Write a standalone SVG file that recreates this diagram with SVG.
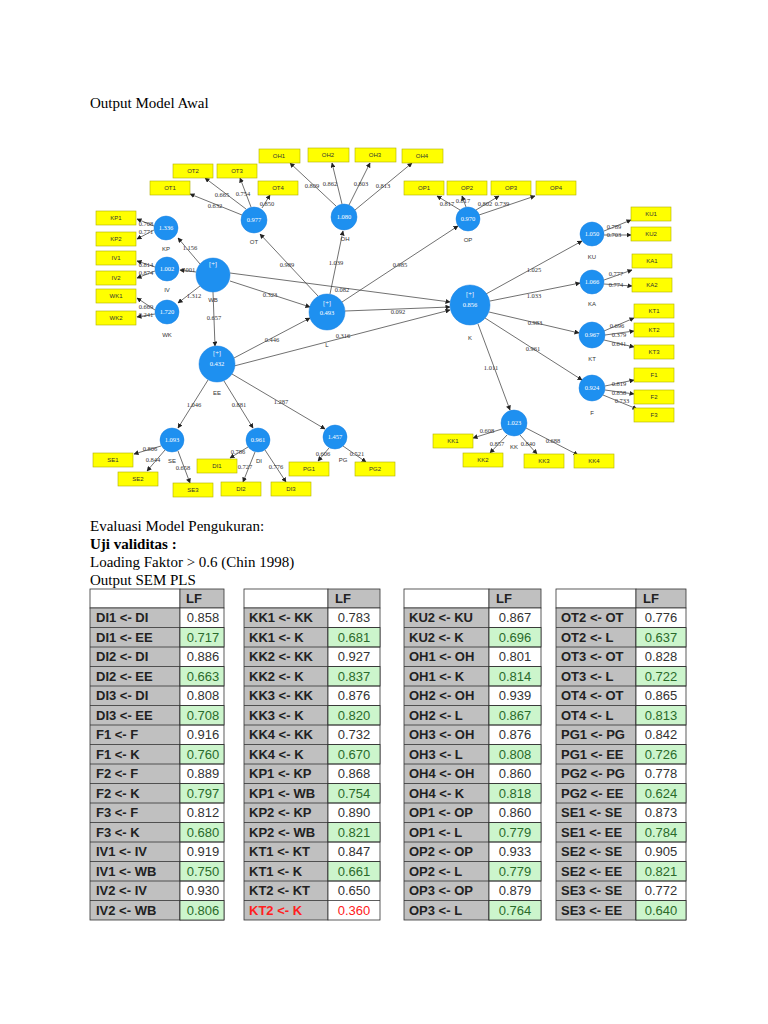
<svg xmlns="http://www.w3.org/2000/svg" width="768" height="1024" viewBox="0 0 768 1024">
<style>
.t{font-family:"Liberation Serif",serif;font-size:15px;fill:#000}
.lv{fill:#1e90f0;stroke:#1a80e0;stroke-width:0.5}
.cv{font-family:"Liberation Serif",serif;font-size:6.5px;fill:#fff;text-anchor:middle}
.nl{font-family:"Liberation Sans",sans-serif;font-size:6px;fill:#333;text-anchor:middle}
.bx{fill:#ffff00;stroke:#b0b000;stroke-width:0.6}
.bt{font-family:"Liberation Sans",sans-serif;font-size:6px;fill:#333;text-anchor:middle}
.ln{stroke:#333;stroke-width:0.7;fill:none;marker-end:url(#a)}
.el{font-family:"Liberation Serif",serif;font-size:6.5px;fill:#333;text-anchor:middle}
.hd{fill:#c0c0c0;stroke:#333;stroke-width:0.8}
.wc{fill:#fff;stroke:#333;stroke-width:0.8}
.gc{fill:#ccf5cc;stroke:#333;stroke-width:0.8}
.k{font-family:"Liberation Sans",sans-serif;font-size:13px;font-weight:bold;fill:#222}
.v{font-family:"Liberation Sans",sans-serif;font-size:13px;fill:#333;text-anchor:middle}
.vg{font-family:"Liberation Sans",sans-serif;font-size:13px;fill:#2a6a2a;text-anchor:middle}
.r{fill:#ff2020}
.gl{stroke:#333;stroke-width:0.8}
</style>
<defs><marker id="a" markerWidth="5" markerHeight="5" refX="4.5" refY="2.5" orient="auto" markerUnits="userSpaceOnUse"><path d="M0,0L5,2.5L0,5z" fill="#222"/></marker>
<g id="grid1"><line x1="0" y1="19.5" x2="1" y2="19.5"/></g></defs>
<rect width="768" height="1024" fill="#fff"/>
<text class="t" x="90" y="108">Output Model Awal</text>

<g id="connectors">
<line class="ln" x1="200" y1="264" x2="178" y2="238"/>
<line class="ln" x1="196" y1="272" x2="180" y2="270"/>
<line class="ln" x1="200" y1="286" x2="178" y2="303"/>
<line class="ln" x1="230" y1="281" x2="310" y2="307"/>
<line class="ln" x1="230" y1="273" x2="450" y2="302"/>
<line class="ln" x1="213" y1="292" x2="215" y2="346"/>
<line class="ln" x1="318" y1="296" x2="260" y2="234"/>
<line class="ln" x1="330" y1="294" x2="343" y2="231"/>
<line class="ln" x1="342" y1="302" x2="458" y2="226"/>
<line class="ln" x1="345" y1="311" x2="450" y2="307"/>
<line class="ln" x1="234" y1="358" x2="310" y2="318"/>
<line class="ln" x1="234" y1="366" x2="450" y2="310"/>
<line class="ln" x1="486" y1="294" x2="582" y2="241"/>
<line class="ln" x1="490" y1="301" x2="580" y2="283"/>
<line class="ln" x1="489" y1="312" x2="579" y2="333"/>
<line class="ln" x1="485" y1="318" x2="582" y2="380"/>
<line class="ln" x1="478" y1="324" x2="510" y2="410"/>
<line class="ln" x1="208" y1="380" x2="178" y2="428"/>
<line class="ln" x1="224" y1="381" x2="253" y2="428"/>
<line class="ln" x1="232" y1="374" x2="325" y2="429"/>
<line class="ln" x1="242" y1="215" x2="190" y2="194"/>
<line class="ln" x1="246" y1="209" x2="205" y2="178"/>
<line class="ln" x1="251" y1="207" x2="240" y2="178"/>
<line class="ln" x1="262" y1="208" x2="270" y2="195"/>
<line class="ln" x1="336" y1="206" x2="290" y2="163"/>
<line class="ln" x1="342" y1="204" x2="332" y2="163"/>
<line class="ln" x1="349" y1="205" x2="370" y2="163"/>
<line class="ln" x1="355" y1="210" x2="412" y2="163"/>
<line class="ln" x1="460" y1="210" x2="437" y2="196"/>
<line class="ln" x1="466" y1="207" x2="462" y2="196"/>
<line class="ln" x1="476" y1="210" x2="499" y2="196"/>
<line class="ln" x1="479" y1="215" x2="535" y2="196"/>
<line class="ln" x1="154" y1="226" x2="137" y2="219"/>
<line class="ln" x1="154" y1="230" x2="137" y2="239"/>
<line class="ln" x1="155" y1="267" x2="137" y2="261"/>
<line class="ln" x1="155" y1="271" x2="137" y2="278"/>
<line class="ln" x1="155" y1="310" x2="137" y2="298"/>
<line class="ln" x1="155" y1="314" x2="137" y2="317"/>
<line class="ln" x1="604" y1="231" x2="631" y2="220"/>
<line class="ln" x1="604" y1="235" x2="631" y2="235"/>
<line class="ln" x1="604" y1="280" x2="632" y2="270"/>
<line class="ln" x1="604" y1="284" x2="632" y2="286"/>
<line class="ln" x1="604" y1="331" x2="634" y2="318"/>
<line class="ln" x1="605" y1="335" x2="634" y2="331"/>
<line class="ln" x1="604" y1="340" x2="634" y2="347"/>
<line class="ln" x1="605" y1="386" x2="634" y2="380"/>
<line class="ln" x1="605" y1="390" x2="634" y2="394"/>
<line class="ln" x1="603" y1="395" x2="637" y2="409"/>
<line class="ln" x1="502" y1="429" x2="473" y2="438"/>
<line class="ln" x1="507" y1="435" x2="490" y2="453"/>
<line class="ln" x1="520" y1="435" x2="537" y2="454"/>
<line class="ln" x1="526" y1="428" x2="578" y2="455"/>
<line class="ln" x1="161" y1="446" x2="134" y2="454"/>
<line class="ln" x1="165" y1="450" x2="147" y2="471"/>
<line class="ln" x1="178" y1="451" x2="190" y2="483"/>
<line class="ln" x1="248" y1="447" x2="230" y2="458"/>
<line class="ln" x1="255" y1="452" x2="243" y2="482"/>
<line class="ln" x1="265" y1="450" x2="286" y2="482"/>
<line class="ln" x1="329" y1="448" x2="318" y2="461"/>
<line class="ln" x1="343" y1="446" x2="366" y2="462"/>
<g class="el">
<text x="190" y="250">1.156</text><text x="188" y="272">1.001</text><text x="194" y="298">1.312</text>
<text x="270" y="297">0.323</text><text x="342" y="292">0.082</text><text x="214" y="320">0.657</text>
<text x="287" y="267">0.989</text><text x="336" y="265">1.039</text><text x="400" y="267">0.985</text><text x="398" y="314">0.092</text>
<text x="272" y="342">0.446</text><text x="343" y="338">0.316</text>
<text x="534" y="272">1.025</text><text x="534" y="298">1.033</text><text x="535" y="325">0.983</text><text x="533" y="351">0.961</text><text x="491" y="370">1.011</text>
<text x="194" y="407">1.046</text><text x="239" y="407">0.881</text><text x="281" y="404">1.287</text>
<text x="215" y="208">0.632</text><text x="222" y="197">0.665</text><text x="243" y="196">0.754</text><text x="267" y="206">0.850</text>
<text x="312" y="188">0.809</text><text x="330" y="186">0.862</text><text x="361" y="186">0.803</text><text x="383" y="188">0.813</text>
<text x="447" y="206">0.817</text><text x="463" y="203">0.817</text><text x="485" y="206">0.802</text><text x="502" y="206">0.739</text>
<text x="146" y="226">0.708</text><text x="146" y="234">0.771</text><text x="146" y="267">0.814</text><text x="146" y="275">0.874</text>
<text x="146" y="309">0.669</text><text x="146" y="317">0.241</text>
<text x="614" y="229">0.789</text><text x="614" y="237">0.703</text><text x="616" y="276">0.777</text><text x="616" y="287">0.774</text>
<text x="617" y="328">0.696</text><text x="619" y="337">0.379</text><text x="619" y="346">0.641</text>
<text x="619" y="386">0.819</text><text x="619" y="395">0.858</text><text x="622" y="403">0.733</text>
<text x="487" y="433">0.608</text><text x="497" y="446">0.857</text><text x="528" y="446">0.840</text><text x="553" y="443">0.688</text>
<text x="150" y="451">0.806</text><text x="153" y="462">0.844</text><text x="183" y="470">0.658</text>
<text x="238" y="454">0.786</text><text x="245" y="469">0.727</text><text x="276" y="469">0.776</text>
<text x="323" y="456">0.606</text><text x="357" y="456">0.521</text>
</g>
</g>

<g id="KP"><circle class="lv" cx="166" cy="228" r="12"/><text class="cv" x="166" y="230">1.336</text><text class="nl" x="166" y="251">KP</text></g>
<g id="IV"><circle class="lv" cx="167" cy="269" r="12"/><text class="cv" x="167" y="271">1.002</text><text class="nl" x="167" y="292">IV</text></g>
<g id="WK"><circle class="lv" cx="167" cy="312" r="12"/><text class="cv" x="167" y="314">1.720</text><text class="nl" x="167" y="337">WK</text></g>
<g id="WB"><circle class="lv" cx="213" cy="275" r="17"/><text class="cv" x="213" y="266">[+]</text><text class="nl" x="213" y="302">WB</text></g>
<g id="OT"><circle class="lv" cx="254" cy="220" r="13"/><text class="cv" x="254" y="222">0.977</text><text class="nl" x="254" y="244">OT</text></g>
<g id="OH"><circle class="lv" cx="344" cy="217" r="13"/><text class="cv" x="344" y="219">1.080</text><text class="nl" x="345" y="241">OH</text></g>
<g id="OP"><circle class="lv" cx="468" cy="219" r="12"/><text class="cv" x="468" y="221">0.970</text><text class="nl" x="468" y="242">OP</text></g>
<g id="L"><circle class="lv" cx="327" cy="312" r="18"/><text class="cv" x="327" y="305">[+]</text><text class="cv" x="327" y="315">0.493</text><text class="nl" x="327" y="347">L</text></g>
<g id="EE"><circle class="lv" cx="217" cy="364" r="18"/><text class="cv" x="217" y="355">[+]</text><text class="cv" x="217" y="366">0.432</text><text class="nl" x="217" y="395">EE</text></g>
<g id="K"><circle class="lv" cx="470" cy="305" r="20"/><text class="cv" x="470" y="296">[+]</text><text class="cv" x="470" y="307">0.856</text><text class="nl" x="470" y="340">K</text></g>
<g id="KU"><circle class="lv" cx="592" cy="234" r="12"/><text class="cv" x="592" y="236">1.050</text><text class="nl" x="592" y="259">KU</text></g>
<g id="KA"><circle class="lv" cx="592" cy="282" r="12"/><text class="cv" x="592" y="284">1.066</text><text class="nl" x="592" y="306">KA</text></g>
<g id="KT"><circle class="lv" cx="592" cy="335" r="13"/><text class="cv" x="592" y="337">0.967</text><text class="nl" x="592" y="361">KT</text></g>
<g id="F"><circle class="lv" cx="592" cy="388" r="13"/><text class="cv" x="592" y="390">0.924</text><text class="nl" x="592" y="415">F</text></g>
<g id="KK"><circle class="lv" cx="514" cy="423" r="13"/><text class="cv" x="514" y="425">1.023</text><text class="nl" x="514" y="449">KK</text></g>
<g id="SE"><circle class="lv" cx="172" cy="440" r="12"/><text class="cv" x="172" y="442">1.093</text><text class="nl" x="172" y="463">SE</text></g>
<g id="DI"><circle class="lv" cx="258" cy="440" r="12"/><text class="cv" x="258" y="442">0.961</text><text class="nl" x="259" y="463">DI</text></g>
<g id="PG"><circle class="lv" cx="335" cy="437" r="12"/><text class="cv" x="335" y="439">1.457</text><text class="nl" x="343" y="462">PG</text></g>

<g id="indicators">
<g id="OT1"><rect class="bx" x="150" y="181" width="40" height="14"/><text class="bt" x="170" y="190">OT1</text></g>
<g id="OT2"><rect class="bx" x="173" y="164" width="40" height="14"/><text class="bt" x="193" y="173">OT2</text></g>
<g id="OT3"><rect class="bx" x="217" y="164" width="40" height="14"/><text class="bt" x="237" y="173">OT3</text></g>
<g id="OT4"><rect class="bx" x="258" y="181" width="40" height="14"/><text class="bt" x="278" y="190">OT4</text></g>
<g id="OH1"><rect class="bx" x="259" y="149" width="41" height="14"/><text class="bt" x="279" y="158">OH1</text></g>
<g id="OH2"><rect class="bx" x="308" y="148" width="41" height="14"/><text class="bt" x="328" y="157">OH2</text></g>
<g id="OH3"><rect class="bx" x="355" y="148" width="41" height="14"/><text class="bt" x="375" y="157">OH3</text></g>
<g id="OH4"><rect class="bx" x="402" y="149" width="41" height="14"/><text class="bt" x="422" y="158">OH4</text></g>
<g id="OP1"><rect class="bx" x="404" y="181" width="40" height="14"/><text class="bt" x="424" y="190">OP1</text></g>
<g id="OP2"><rect class="bx" x="447" y="181" width="40" height="14"/><text class="bt" x="467" y="190">OP2</text></g>
<g id="OP3"><rect class="bx" x="491" y="181" width="40" height="14"/><text class="bt" x="511" y="190">OP3</text></g>
<g id="OP4"><rect class="bx" x="536" y="181" width="40" height="14"/><text class="bt" x="556" y="190">OP4</text></g>
<g id="KP1"><rect class="bx" x="96" y="211" width="40" height="14"/><text class="bt" x="116" y="220">KP1</text></g>
<g id="KP2"><rect class="bx" x="96" y="232" width="40" height="14"/><text class="bt" x="116" y="241">KP2</text></g>
<g id="IV1"><rect class="bx" x="96" y="251" width="40" height="14"/><text class="bt" x="116" y="260">IV1</text></g>
<g id="IV2"><rect class="bx" x="96" y="271" width="40" height="14"/><text class="bt" x="116" y="280">IV2</text></g>
<g id="WK1"><rect class="bx" x="96" y="289" width="40" height="14"/><text class="bt" x="116" y="298">WK1</text></g>
<g id="WK2"><rect class="bx" x="96" y="311" width="40" height="14"/><text class="bt" x="116" y="320">WK2</text></g>
<g id="KU1"><rect class="bx" x="631" y="207" width="40" height="14"/><text class="bt" x="651" y="216">KU1</text></g>
<g id="KU2"><rect class="bx" x="631" y="227" width="40" height="14"/><text class="bt" x="651" y="236">KU2</text></g>
<g id="KA1"><rect class="bx" x="632" y="254" width="40" height="14"/><text class="bt" x="652" y="263">KA1</text></g>
<g id="KA2"><rect class="bx" x="632" y="278" width="40" height="14"/><text class="bt" x="652" y="287">KA2</text></g>
<g id="KT1"><rect class="bx" x="634" y="304" width="40" height="14"/><text class="bt" x="654" y="313">KT1</text></g>
<g id="KT2"><rect class="bx" x="634" y="323" width="40" height="14"/><text class="bt" x="654" y="332">KT2</text></g>
<g id="KT3"><rect class="bx" x="634" y="345" width="40" height="14"/><text class="bt" x="654" y="354">KT3</text></g>
<g id="F1"><rect class="bx" x="634" y="368" width="40" height="14"/><text class="bt" x="654" y="377">F1</text></g>
<g id="F2"><rect class="bx" x="634" y="390" width="40" height="14"/><text class="bt" x="654" y="399">F2</text></g>
<g id="F3"><rect class="bx" x="634" y="408" width="40" height="14"/><text class="bt" x="654" y="417">F3</text></g>
<g id="KK1"><rect class="bx" x="433" y="434" width="40" height="14"/><text class="bt" x="453" y="443">KK1</text></g>
<g id="KK2"><rect class="bx" x="463" y="453" width="40" height="14"/><text class="bt" x="483" y="462">KK2</text></g>
<g id="KK3"><rect class="bx" x="524" y="454" width="40" height="14"/><text class="bt" x="544" y="463">KK3</text></g>
<g id="KK4"><rect class="bx" x="574" y="454" width="40" height="14"/><text class="bt" x="594" y="463">KK4</text></g>
<g id="SE1"><rect class="bx" x="93" y="453" width="40" height="14"/><text class="bt" x="113" y="462">SE1</text></g>
<g id="SE2"><rect class="bx" x="118" y="472" width="40" height="14"/><text class="bt" x="138" y="481">SE2</text></g>
<g id="SE3"><rect class="bx" x="173" y="483" width="40" height="14"/><text class="bt" x="193" y="492">SE3</text></g>
<g id="DI1"><rect class="bx" x="197" y="459" width="40" height="14"/><text class="bt" x="217" y="468">DI1</text></g>
<g id="DI2"><rect class="bx" x="221" y="482" width="40" height="14"/><text class="bt" x="241" y="491">DI2</text></g>
<g id="DI3"><rect class="bx" x="271" y="482" width="40" height="14"/><text class="bt" x="291" y="491">DI3</text></g>
<g id="PG1"><rect class="bx" x="289" y="462" width="40" height="14"/><text class="bt" x="309" y="471">PG1</text></g>
<g id="PG2"><rect class="bx" x="355" y="462" width="40" height="14"/><text class="bt" x="375" y="471">PG2</text></g>
</g>

<text class="t" x="90" y="531">Evaluasi Model Pengukuran:</text>
<text class="t" x="90" y="549" font-weight="bold">Uji validitas :</text>
<text class="t" x="90" y="567">Loading Faktor &gt; 0.6 (Chin 1998)</text>
<text class="t" x="90" y="585">Output SEM PLS</text>

<!-- row separators shared pattern -->
<defs>
<g id="seps" class="gl"><line x1="0" y1="627.5" x2="1" y2="627.5"/></g>
</defs>

<g id="table1">
<rect class="wc" x="90" y="589" width="90" height="19"/><rect class="hd" x="180" y="589" width="44" height="19"/><text class="k" x="186" y="603">LF</text>
<rect class="hd" x="90" y="608" width="90" height="312"/>
<rect class="wc" x="180" y="608" width="44" height="312"/>
<g class="gc"><rect x="180" y="627.5" width="44" height="19.5"/><rect x="180" y="666.5" width="44" height="19.5"/><rect x="180" y="705.5" width="44" height="19.5"/><rect x="180" y="744.5" width="44" height="19.5"/><rect x="180" y="783.5" width="44" height="19.5"/><rect x="180" y="822.5" width="44" height="19.5"/><rect x="180" y="861.5" width="44" height="19.5"/><rect x="180" y="900.5" width="44" height="19.5"/></g>
<g class="gl"><line x1="90" y1="627.5" x2="224" y2="627.5"/><line x1="90" y1="647" x2="224" y2="647"/><line x1="90" y1="666.5" x2="224" y2="666.5"/><line x1="90" y1="686" x2="224" y2="686"/><line x1="90" y1="705.5" x2="224" y2="705.5"/><line x1="90" y1="725" x2="224" y2="725"/><line x1="90" y1="744.5" x2="224" y2="744.5"/><line x1="90" y1="764" x2="224" y2="764"/><line x1="90" y1="783.5" x2="224" y2="783.5"/><line x1="90" y1="803" x2="224" y2="803"/><line x1="90" y1="822.5" x2="224" y2="822.5"/><line x1="90" y1="842" x2="224" y2="842"/><line x1="90" y1="861.5" x2="224" y2="861.5"/><line x1="90" y1="881" x2="224" y2="881"/><line x1="90" y1="900.5" x2="224" y2="900.5"/></g>
<g class="k"><text x="96" y="622">DI1 &lt;- DI</text><text x="96" y="641.5">DI1 &lt;- EE</text><text x="96" y="661">DI2 &lt;- DI</text><text x="96" y="680.5">DI2 &lt;- EE</text><text x="96" y="700">DI3 &lt;- DI</text><text x="96" y="719.5">DI3 &lt;- EE</text><text x="96" y="739">F1 &lt;- F</text><text x="96" y="758.5">F1 &lt;- K</text><text x="96" y="778">F2 &lt;- F</text><text x="96" y="797.5">F2 &lt;- K</text><text x="96" y="817">F3 &lt;- F</text><text x="96" y="836.5">F3 &lt;- K</text><text x="96" y="856">IV1 &lt;- IV</text><text x="96" y="875.5">IV1 &lt;- WB</text><text x="96" y="895">IV2 &lt;- IV</text><text x="96" y="914.5">IV2 &lt;- WB</text></g>
<g class="v"><text x="203" y="622">0.858</text><text x="203" y="661">0.886</text><text x="203" y="700">0.808</text><text x="203" y="739">0.916</text><text x="203" y="778">0.889</text><text x="203" y="817">0.812</text><text x="203" y="856">0.919</text><text x="203" y="895">0.930</text></g>
<g class="vg"><text x="203" y="641.5">0.717</text><text x="203" y="680.5">0.663</text><text x="203" y="719.5">0.708</text><text x="203" y="758.5">0.760</text><text x="203" y="797.5">0.797</text><text x="203" y="836.5">0.680</text><text x="203" y="875.5">0.750</text><text x="203" y="914.5">0.806</text></g>
</g>

<g id="table2">
<rect class="wc" x="244" y="589" width="84" height="19"/><rect class="hd" x="328" y="589" width="52" height="19"/><text class="k" x="335" y="603">LF</text>
<rect class="hd" x="244" y="608" width="84" height="312"/>
<rect class="wc" x="328" y="608" width="52" height="312"/>
<g class="gc"><rect x="328" y="627.5" width="52" height="19.5"/><rect x="328" y="666.5" width="52" height="19.5"/><rect x="328" y="705.5" width="52" height="19.5"/><rect x="328" y="744.5" width="52" height="19.5"/><rect x="328" y="783.5" width="52" height="19.5"/><rect x="328" y="822.5" width="52" height="19.5"/><rect x="328" y="861.5" width="52" height="19.5"/></g>
<g class="gl"><line x1="244" y1="627.5" x2="380" y2="627.5"/><line x1="244" y1="647" x2="380" y2="647"/><line x1="244" y1="666.5" x2="380" y2="666.5"/><line x1="244" y1="686" x2="380" y2="686"/><line x1="244" y1="705.5" x2="380" y2="705.5"/><line x1="244" y1="725" x2="380" y2="725"/><line x1="244" y1="744.5" x2="380" y2="744.5"/><line x1="244" y1="764" x2="380" y2="764"/><line x1="244" y1="783.5" x2="380" y2="783.5"/><line x1="244" y1="803" x2="380" y2="803"/><line x1="244" y1="822.5" x2="380" y2="822.5"/><line x1="244" y1="842" x2="380" y2="842"/><line x1="244" y1="861.5" x2="380" y2="861.5"/><line x1="244" y1="881" x2="380" y2="881"/><line x1="244" y1="900.5" x2="380" y2="900.5"/></g>
<g class="k"><text x="249" y="622">KK1 &lt;- KK</text><text x="249" y="641.5">KK1 &lt;- K</text><text x="249" y="661">KK2 &lt;- KK</text><text x="249" y="680.5">KK2 &lt;- K</text><text x="249" y="700">KK3 &lt;- KK</text><text x="249" y="719.5">KK3 &lt;- K</text><text x="249" y="739">KK4 &lt;- KK</text><text x="249" y="758.5">KK4 &lt;- K</text><text x="249" y="778">KP1 &lt;- KP</text><text x="249" y="797.5">KP1 &lt;- WB</text><text x="249" y="817">KP2 &lt;- KP</text><text x="249" y="836.5">KP2 &lt;- WB</text><text x="249" y="856">KT1 &lt;- KT</text><text x="249" y="875.5">KT1 &lt;- K</text><text x="249" y="895">KT2 &lt;- KT</text><text x="249" y="914.5" class="r">KT2 &lt;- K</text></g>
<g class="v"><text x="354" y="622">0.783</text><text x="354" y="661">0.927</text><text x="354" y="700">0.876</text><text x="354" y="739">0.732</text><text x="354" y="778">0.868</text><text x="354" y="817">0.890</text><text x="354" y="856">0.847</text><text x="354" y="895">0.650</text><text x="354" y="914.5" class="r">0.360</text></g>
<g class="vg"><text x="354" y="641.5">0.681</text><text x="354" y="680.5">0.837</text><text x="354" y="719.5">0.820</text><text x="354" y="758.5">0.670</text><text x="354" y="797.5">0.754</text><text x="354" y="836.5">0.821</text><text x="354" y="875.5">0.661</text></g>
</g>

<g id="table3">
<rect class="wc" x="404" y="589" width="85" height="19"/><rect class="hd" x="489" y="589" width="52" height="19"/><text class="k" x="496" y="603">LF</text>
<rect class="hd" x="404" y="608" width="85" height="312"/>
<rect class="wc" x="489" y="608" width="52" height="312"/>
<g class="gc"><rect x="489" y="627.5" width="52" height="19.5"/><rect x="489" y="666.5" width="52" height="19.5"/><rect x="489" y="705.5" width="52" height="19.5"/><rect x="489" y="744.5" width="52" height="19.5"/><rect x="489" y="783.5" width="52" height="19.5"/><rect x="489" y="822.5" width="52" height="19.5"/><rect x="489" y="861.5" width="52" height="19.5"/><rect x="489" y="900.5" width="52" height="19.5"/></g>
<g class="gl"><line x1="404" y1="627.5" x2="541" y2="627.5"/><line x1="404" y1="647" x2="541" y2="647"/><line x1="404" y1="666.5" x2="541" y2="666.5"/><line x1="404" y1="686" x2="541" y2="686"/><line x1="404" y1="705.5" x2="541" y2="705.5"/><line x1="404" y1="725" x2="541" y2="725"/><line x1="404" y1="744.5" x2="541" y2="744.5"/><line x1="404" y1="764" x2="541" y2="764"/><line x1="404" y1="783.5" x2="541" y2="783.5"/><line x1="404" y1="803" x2="541" y2="803"/><line x1="404" y1="822.5" x2="541" y2="822.5"/><line x1="404" y1="842" x2="541" y2="842"/><line x1="404" y1="861.5" x2="541" y2="861.5"/><line x1="404" y1="881" x2="541" y2="881"/><line x1="404" y1="900.5" x2="541" y2="900.5"/></g>
<g class="k"><text x="409" y="622">KU2 &lt;- KU</text><text x="409" y="641.5">KU2 &lt;- K</text><text x="409" y="661">OH1 &lt;- OH</text><text x="409" y="680.5">OH1 &lt;- K</text><text x="409" y="700">OH2 &lt;- OH</text><text x="409" y="719.5">OH2 &lt;- L</text><text x="409" y="739">OH3 &lt;- OH</text><text x="409" y="758.5">OH3 &lt;- L</text><text x="409" y="778">OH4 &lt;- OH</text><text x="409" y="797.5">OH4 &lt;- K</text><text x="409" y="817">OP1 &lt;- OP</text><text x="409" y="836.5">OP1 &lt;- L</text><text x="409" y="856">OP2 &lt;- OP</text><text x="409" y="875.5">OP2 &lt;- L</text><text x="409" y="895">OP3 &lt;- OP</text><text x="409" y="914.5">OP3 &lt;- L</text></g>
<g class="v"><text x="515" y="622">0.867</text><text x="515" y="661">0.801</text><text x="515" y="700">0.939</text><text x="515" y="739">0.876</text><text x="515" y="778">0.860</text><text x="515" y="817">0.860</text><text x="515" y="856">0.933</text><text x="515" y="895">0.879</text></g>
<g class="vg"><text x="515" y="641.5">0.696</text><text x="515" y="680.5">0.814</text><text x="515" y="719.5">0.867</text><text x="515" y="758.5">0.808</text><text x="515" y="797.5">0.818</text><text x="515" y="836.5">0.779</text><text x="515" y="875.5">0.779</text><text x="515" y="914.5">0.764</text></g>
</g>

<g id="table4">
<rect class="wc" x="556" y="589" width="80" height="19"/><rect class="hd" x="636" y="589" width="50" height="19"/><text class="k" x="643" y="603">LF</text>
<rect class="hd" x="556" y="608" width="80" height="312"/>
<rect class="wc" x="636" y="608" width="50" height="312"/>
<g class="gc"><rect x="636" y="627.5" width="50" height="19.5"/><rect x="636" y="666.5" width="50" height="19.5"/><rect x="636" y="705.5" width="50" height="19.5"/><rect x="636" y="744.5" width="50" height="19.5"/><rect x="636" y="783.5" width="50" height="19.5"/><rect x="636" y="822.5" width="50" height="19.5"/><rect x="636" y="861.5" width="50" height="19.5"/><rect x="636" y="900.5" width="50" height="19.5"/></g>
<g class="gl"><line x1="556" y1="627.5" x2="686" y2="627.5"/><line x1="556" y1="647" x2="686" y2="647"/><line x1="556" y1="666.5" x2="686" y2="666.5"/><line x1="556" y1="686" x2="686" y2="686"/><line x1="556" y1="705.5" x2="686" y2="705.5"/><line x1="556" y1="725" x2="686" y2="725"/><line x1="556" y1="744.5" x2="686" y2="744.5"/><line x1="556" y1="764" x2="686" y2="764"/><line x1="556" y1="783.5" x2="686" y2="783.5"/><line x1="556" y1="803" x2="686" y2="803"/><line x1="556" y1="822.5" x2="686" y2="822.5"/><line x1="556" y1="842" x2="686" y2="842"/><line x1="556" y1="861.5" x2="686" y2="861.5"/><line x1="556" y1="881" x2="686" y2="881"/><line x1="556" y1="900.5" x2="686" y2="900.5"/></g>
<g class="k"><text x="561" y="622">OT2 &lt;- OT</text><text x="561" y="641.5">OT2 &lt;- L</text><text x="561" y="661">OT3 &lt;- OT</text><text x="561" y="680.5">OT3 &lt;- L</text><text x="561" y="700">OT4 &lt;- OT</text><text x="561" y="719.5">OT4 &lt;- L</text><text x="561" y="739">PG1 &lt;- PG</text><text x="561" y="758.5">PG1 &lt;- EE</text><text x="561" y="778">PG2 &lt;- PG</text><text x="561" y="797.5">PG2 &lt;- EE</text><text x="561" y="817">SE1 &lt;- SE</text><text x="561" y="836.5">SE1 &lt;- EE</text><text x="561" y="856">SE2 &lt;- SE</text><text x="561" y="875.5">SE2 &lt;- EE</text><text x="561" y="895">SE3 &lt;- SE</text><text x="561" y="914.5">SE3 &lt;- EE</text></g>
<g class="v"><text x="661" y="622">0.776</text><text x="661" y="661">0.828</text><text x="661" y="700">0.865</text><text x="661" y="739">0.842</text><text x="661" y="778">0.778</text><text x="661" y="817">0.873</text><text x="661" y="856">0.905</text><text x="661" y="895">0.772</text></g>
<g class="vg"><text x="661" y="641.5">0.637</text><text x="661" y="680.5">0.722</text><text x="661" y="719.5">0.813</text><text x="661" y="758.5">0.726</text><text x="661" y="797.5">0.624</text><text x="661" y="836.5">0.784</text><text x="661" y="875.5">0.821</text><text x="661" y="914.5">0.640</text></g>
</g>
</svg>
